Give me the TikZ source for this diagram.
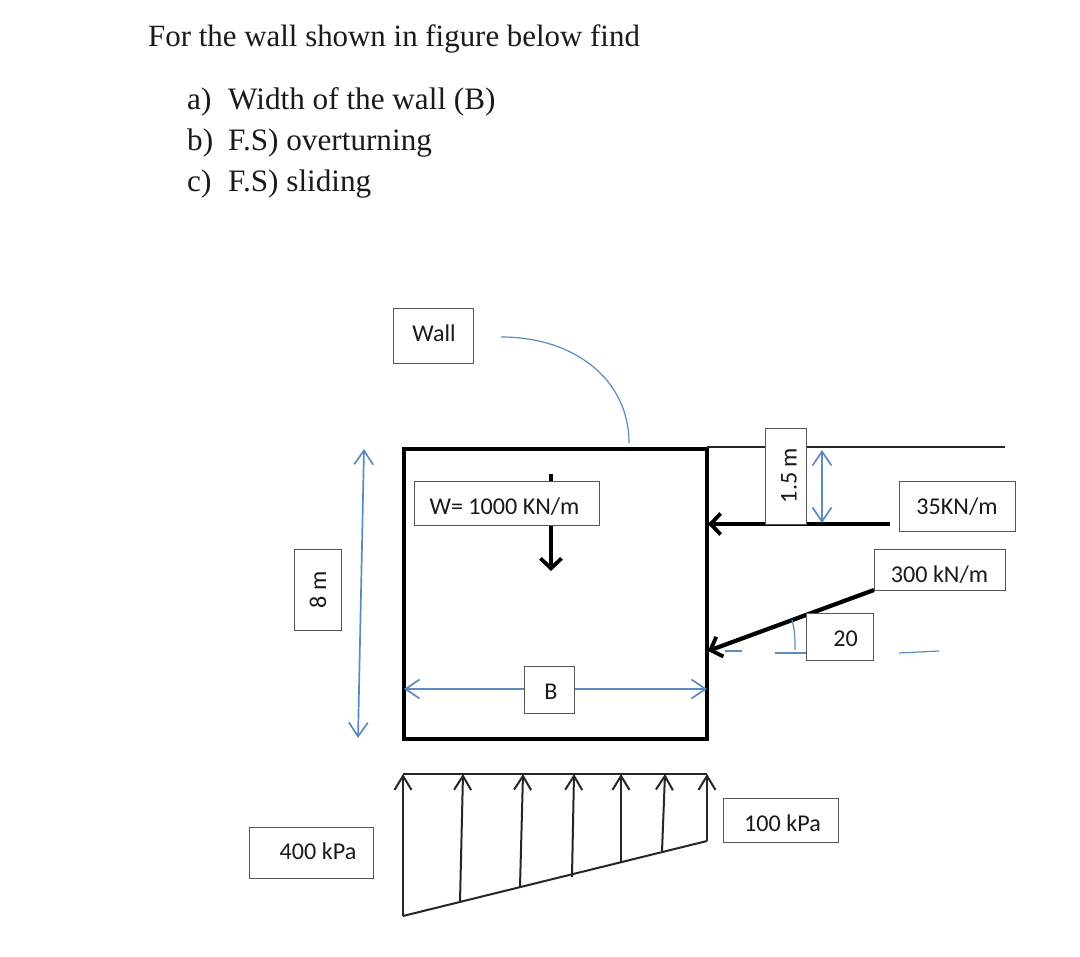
\documentclass[tikz,border=0pt]{standalone}
\usepackage{fontspec}
\setmainfont{Liberation Serif}
\newfontfamily\lbl{Carlito}
\usetikzlibrary{arrows.meta}
\definecolor{bluel}{HTML}{5B8BC0}
\definecolor{boxl}{HTML}{555555}
\definecolor{inkc}{HTML}{1A1A1A}
\tikzset{
  x=1pt,y=-1pt,
  qtext/.style={anchor=base west,inner sep=0pt,font=\fontsize{30.9}{34}\selectfont,text=inkc},
  qlist/.style={qtext,font=\fontsize{31.2}{34}\selectfont},
  lbox/.style={draw=boxl,line width=1pt,fill=white,inner sep=0pt,minimum width=#1,font=\lbl\fontsize{24.1}{26}\selectfont,text=inkc},
  hlab/.style={lbox=#1,text height=0pt,text depth=0pt},
  wallline/.style={line width=4.5pt,line join=miter},
  force/.style={line width=4.2pt,-{Straight Barb[length=10pt,width=21pt,line width=3.8pt]}},
  dist/.style={line width=2pt,draw=black!85,-{Straight Barb[length=14pt,width=17pt,line width=2pt]}},
  dim/.style={draw=bluel,line width=1.7pt,{Straight Barb[length=14pt,width=19pt,line width=1.7pt]}-{Straight Barb[length=14pt,width=19pt,line width=1.7pt]}},
  thinblue/.style={draw=bluel,line width=1.2pt},
}
\begin{document}
\begin{tikzpicture}
\useasboundingbox (0,0) rectangle (1080,957);
\fill[white] (0,0) rectangle (1080,957);
% question text
\node[qtext] (q0) at (148,47) {For the wall shown in figure below find};
\node[qlist] (qa) at (187,110) {\makebox[41pt][l]{a)}Width of the wall (B)};
\node[qlist] (qb) at (187,151) {\makebox[41pt][l]{b)}F.S) overturning};
\node[qlist] (qc) at (187,192) {\makebox[41pt][l]{c)}F.S) sliding};
% wall
\coordinate (wtl) at (404,449);
\coordinate (wbr) at (707,739);
\draw[wallline] (wtl) rectangle (wbr);
% ground
\coordinate (g0) at (707,447);
\coordinate (g1) at (1005,447);
\draw[line width=1.6pt,draw=black!85] (g0) -- (g1);
% wall callout
\coordinate (c0) at (501,337);
\coordinate (c1) at (629,443);
\draw[thinblue] (c0) .. controls (575,337) and (629,380) .. (c1);
% forces
\coordinate (w0) at (551,474);
\coordinate (w1) at (551,571);
\draw[force] (w0) -- (w1);
\coordinate (f0) at (890,524);
\coordinate (f1) at (708,524);
\draw[force] (f0) -- (f1);
\coordinate (p0) at (874,590);
\coordinate (p1) at (708,651);
\draw[force] (p0) -- (p1);
% angle marks
\coordinate (a0) at (792,620);
\coordinate (a1) at (795,650);
\draw[thinblue] (a0) .. controls (795,630) and (795,640) .. (a1);
\coordinate (h0) at (725,651); \coordinate (h1) at (742,651);
\draw[thinblue] (h0) -- (h1);
\coordinate (h2) at (775,653); \coordinate (h3) at (808,653);
\draw[thinblue] (h2) -- (h3);
\coordinate (h4) at (899,653); \coordinate (h5) at (939,651);
\draw[thinblue] (h4) -- (h5);
% dimensions
\coordinate (d0) at (364,449); \coordinate (d1) at (358,738);
\draw[dim] (d0) -- (d1);
\coordinate (e0) at (404,689); \coordinate (e1) at (707,689);
\draw[dim] (e0) -- (e1);
\coordinate (m0) at (822,450); \coordinate (m1) at (822,523);
\draw[dim] (m0) -- (m1);
% pressure diagram
\coordinate (t0) at (403,774); \coordinate (t1) at (463,774); \coordinate (t2) at (523,774);
\coordinate (t3) at (574,774); \coordinate (t4) at (621,774); \coordinate (t5) at (665,774);
\coordinate (t6) at (707,774);
\coordinate (b0) at (403,916); \coordinate (b1) at (460,902); \coordinate (b2) at (520,887);
\coordinate (b3) at (572,877); \coordinate (b4) at (621,862); \coordinate (b5) at (662,852);
\coordinate (b6) at (707,841);
\draw[line width=2pt,draw=black!85] (t0) -- (t6);
\draw[line width=2pt,draw=black!85] (b0) -- (b6);
\foreach \i in {0,...,6} \draw[dist] (b\i) -- (t\i);
% labels
\node[hlab=80pt,minimum height=55pt] (wall) at (433,336.5) {\hspace*{2pt}\raisebox{-5.5pt}{Wall}};
\node[lbox=47pt,minimum height=80pt] (em) at (318,590) {\rotatebox{90}{8 m}};
\node[hlab=185pt,minimum height=44pt] (wlab) at (506.5,504) {\raisebox{-11pt}{W= 1000 KN/m}\hspace*{4pt}};
\node[hlab=50pt,minimum height=47pt] (blab) at (549,689.5) {\hspace*{4pt}\raisebox{-9.5pt}{B}};
\node[lbox=41pt,minimum height=96pt] (onefive) at (785.5,477) {\hspace*{7pt}\raisebox{3pt}{\rotatebox{90}{1.5 m}}};
\node[hlab=116pt,minimum height=50pt] (f35) at (957,507) {\raisebox{-8pt}{35KN/m}};
\node[hlab=131pt,minimum height=41pt] (f300) at (939.5,570.5) {\raisebox{-12.5pt}{300 kN/m}};
\node[hlab=67pt,minimum height=47pt] (ang) at (839.5,636.5) {\hspace*{12pt}\raisebox{-9.5pt}{20}};
\node[hlab=115pt,minimum height=44pt] (p100) at (780.5,820) {\hspace*{4pt}\raisebox{-11pt}{100 kPa}};
\node[hlab=124pt,minimum height=51pt] (p400) at (311,852.5) {\hspace*{14pt}\raisebox{-6.5pt}{400 kPa}};
\end{tikzpicture}
\end{document}
